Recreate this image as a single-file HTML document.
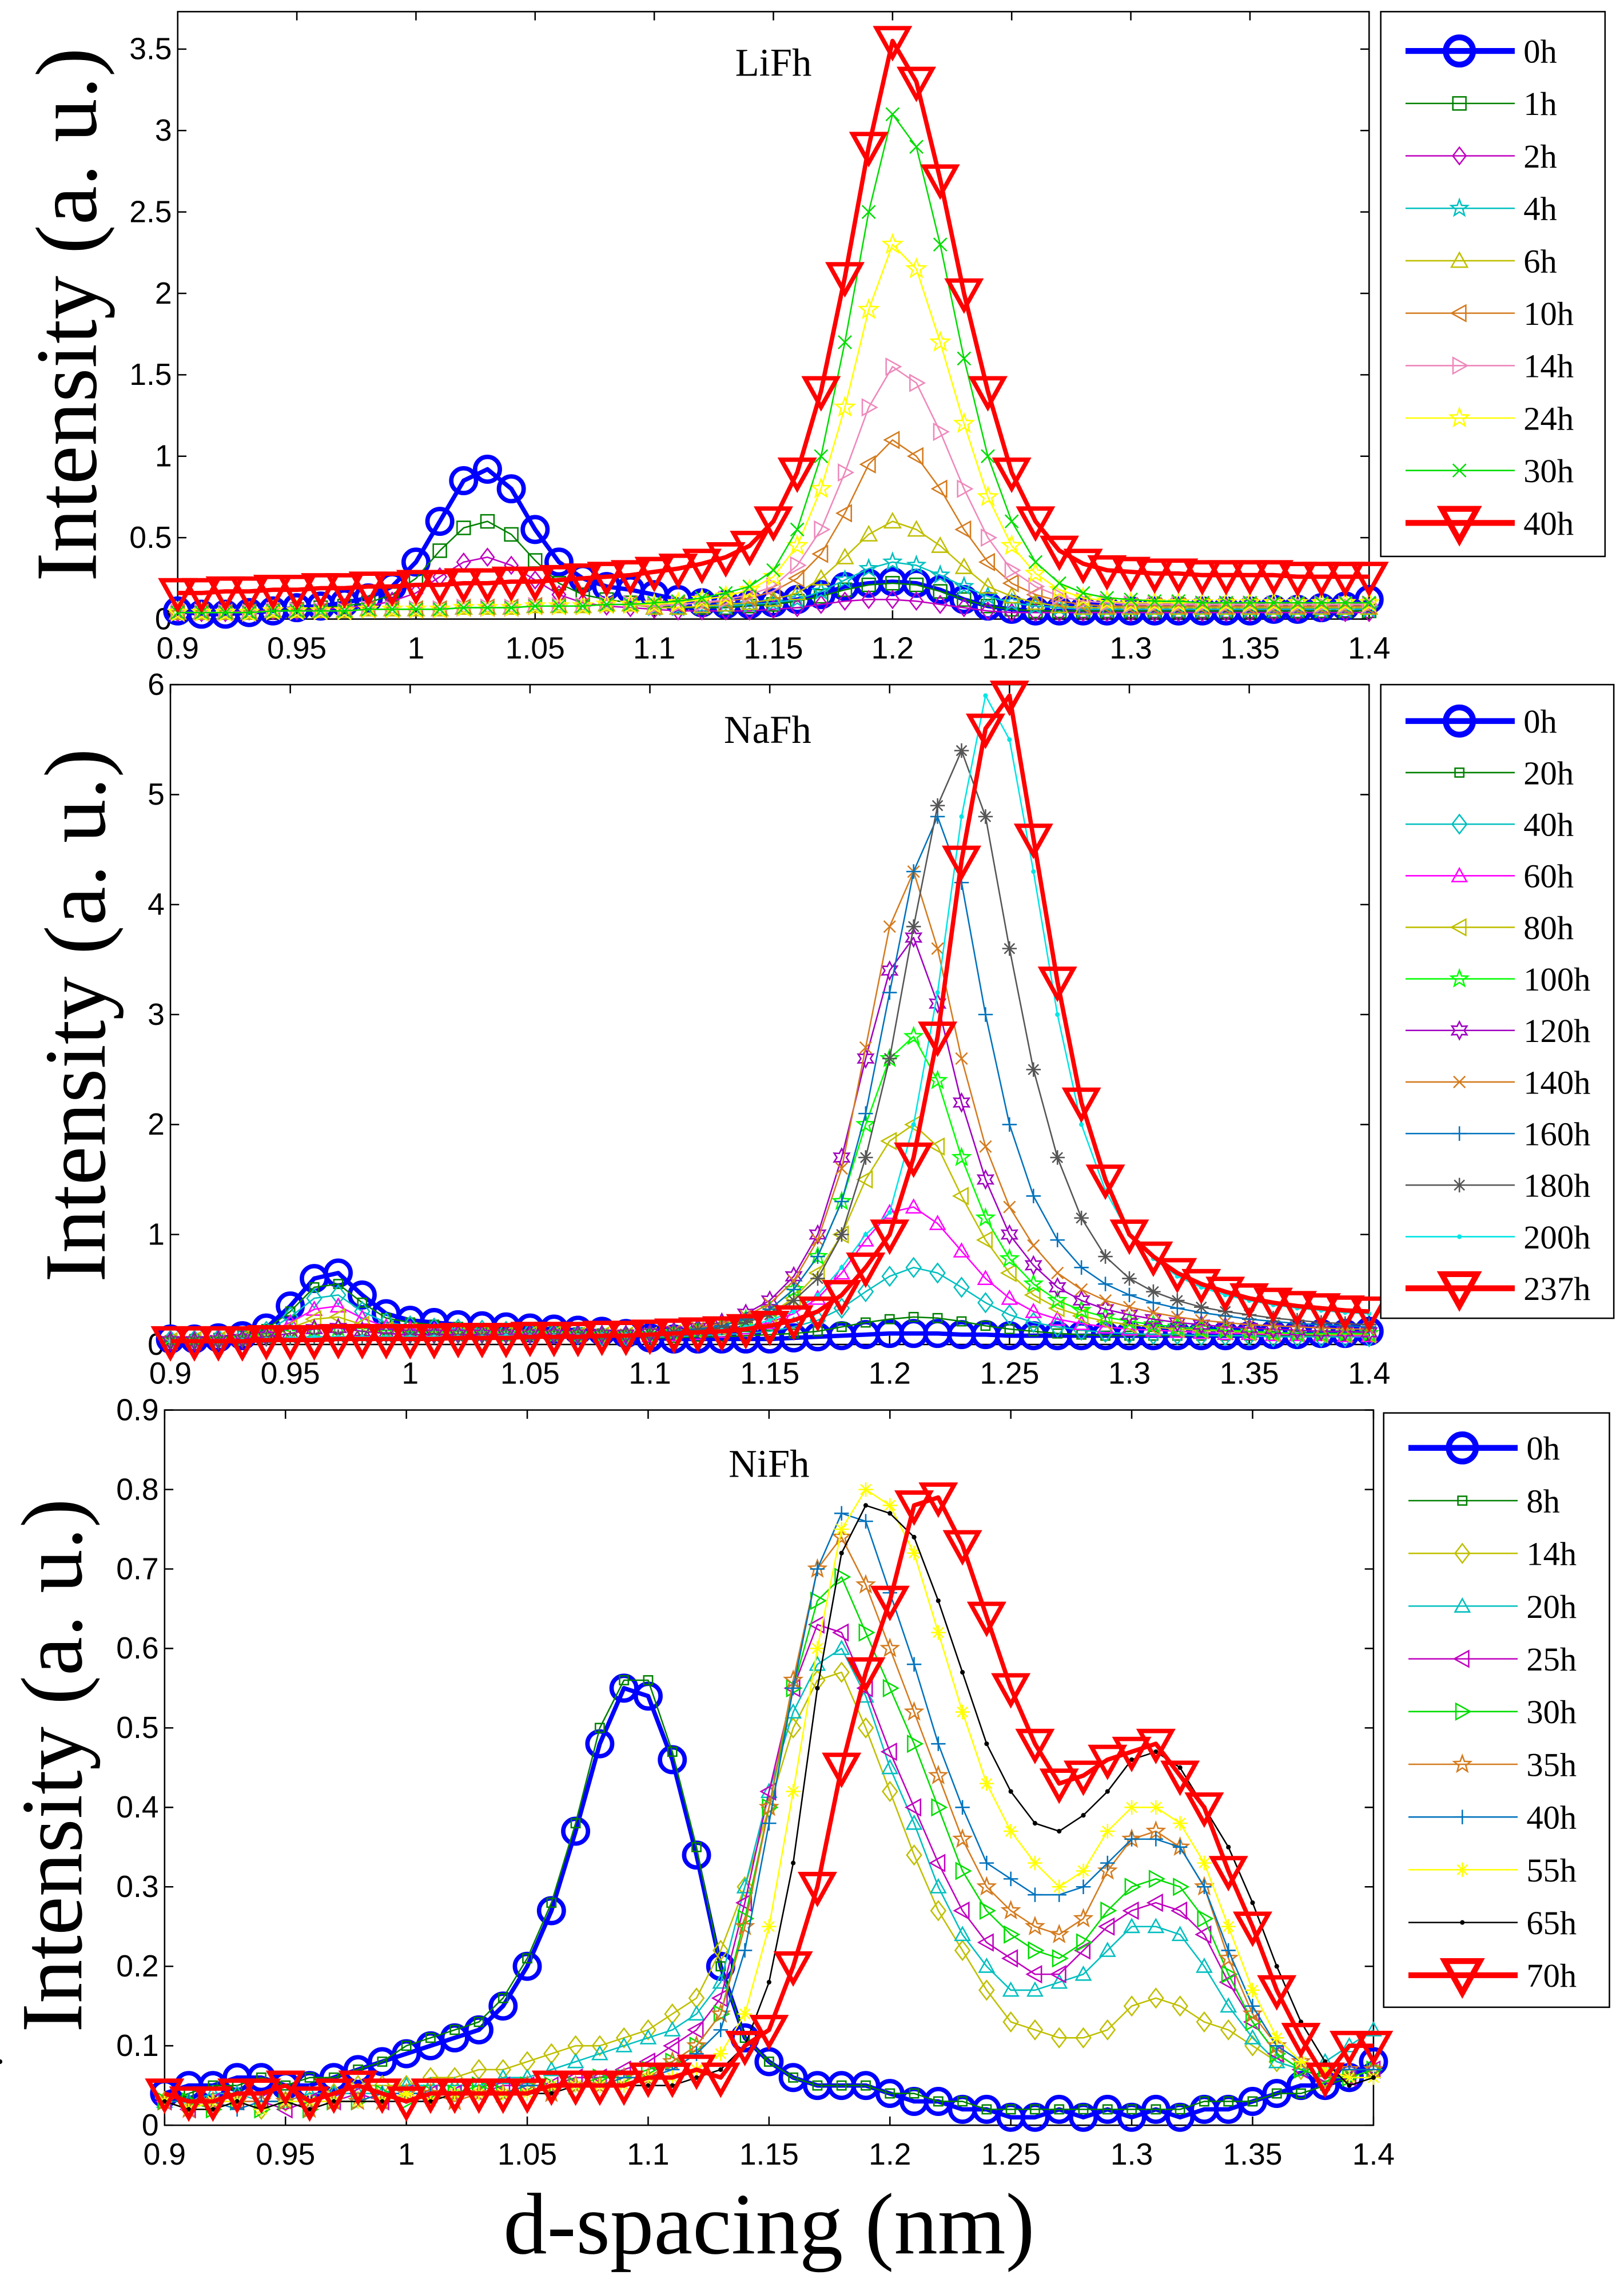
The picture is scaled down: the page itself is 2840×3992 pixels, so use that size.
<!DOCTYPE html>
<html><head><meta charset="utf-8"><style>
html,body{margin:0;padding:0;background:#fff}
svg{display:block}
text{font-family:"Liberation Sans",sans-serif}
.serif{font-family:"Liberation Serif",serif}
</style></head><body>
<svg id="fig" width="2840" height="3992" viewBox="0 0 1115 1567.3" xmlns="http://www.w3.org/2000/svg">
<rect x="0" y="0" width="1115" height="1568" fill="#fff"/>
<text class="serif" x="528" y="1547" font-size="60" text-anchor="middle">d-spacing (nm)</text>
</svg>
<script>
const xs=[0.90,0.91,0.92,0.93,0.94,0.95,0.96,0.97,0.98,0.99,1.00,1.01,1.02,1.03,1.04,1.05,1.06,1.07,1.08,1.09,1.10,1.11,1.12,1.13,1.14,1.15,1.16,1.17,1.18,1.19,1.20,1.21,1.22,1.23,1.24,1.25,1.26,1.27,1.28,1.29,1.30,1.31,1.32,1.33,1.34,1.35,1.36,1.37,1.38,1.39,1.40];
const xTicks=[0.9,0.95,1,1.05,1.1,1.15,1.2,1.25,1.3,1.35,1.4];
const xTickLabels=["0.9","0.95","1","1.05","1.1","1.15","1.2","1.25","1.3","1.35","1.4"];
// ---- LiFh ----
const liLabels=["0h","1h","2h","4h","6h","10h","14h","24h","30h","40h"];
const li0h=[.05,.03,.03,.04,.05,.07,.08,.1,.13,.2,.35,.6,.85,.92,.8,.55,.35,.25,.2,.18,.15,.12,.1,.09,.09,.1,.12,.15,.2,.22,.23,.22,.18,.12,.08,.06,.05,.05,.05,.05,.05,.05,.05,.05,.05,.05,.06,.06,.07,.08,.12];
const li1h=[.04,.04,.04,.05,.05,.06,.07,.08,.1,.15,.25,.42,.56,.6,.52,.36,.22,.15,.12,.1,.08,.07,.07,.07,.08,.09,.11,.14,.18,.21,.22,.21,.17,.12,.08,.06,.05,.05,.05,.05,.05,.05,.05,.05,.05,.05,.05,.05,.05,.05,.05];
const li2h=[.04,.04,.04,.05,.05,.05,.06,.07,.08,.11,.16,.26,.35,.38,.33,.24,.15,.1,.08,.07,.06,.05,.05,.05,.05,.06,.07,.09,.11,.12,.12,.11,.09,.07,.05,.04,.04,.04,.04,.04,.04,.04,.04,.04,.04,.04,.04,.04,.04,.04,.04];
const li4h=[.04,.04,.04,.04,.05,.05,.05,.05,.06,.06,.06,.06,.07,.07,.07,.08,.08,.08,.09,.09,.07,.07,.08,.08,.09,.1,.12,.17,.24,.31,.35,.33,.27,.2,.14,.1,.08,.07,.06,.06,.06,.06,.06,.06,.06,.06,.06,.06,.06,.06,.06];
const li6h=[.04,.04,.04,.04,.05,.05,.05,.05,.06,.06,.06,.06,.07,.07,.07,.08,.08,.08,.09,.09,.07,.07,.08,.09,.1,.12,.16,.25,.38,.52,.6,.55,.45,.32,.2,.14,.1,.08,.07,.07,.07,.07,.07,.07,.07,.07,.07,.07,.07,.07,.07];
const li10h=[.04,.04,.04,.04,.05,.05,.05,.05,.06,.06,.06,.06,.07,.07,.07,.08,.08,.08,.09,.09,.08,.09,.1,.11,.13,.17,.25,.4,.65,.95,1.1,1.0,.8,.55,.35,.22,.15,.11,.09,.08,.08,.08,.08,.08,.08,.08,.08,.08,.08,.08,.08];
const li14h=[.04,.04,.04,.04,.05,.05,.05,.05,.06,.06,.06,.06,.07,.07,.07,.08,.08,.08,.09,.09,.08,.09,.1,.12,.15,.2,.33,.55,.9,1.3,1.55,1.45,1.15,.8,.5,.3,.2,.14,.11,.1,.09,.09,.09,.09,.09,.09,.09,.09,.09,.09,.09];
const li24h=[.04,.04,.04,.04,.05,.05,.05,.05,.06,.06,.06,.06,.07,.07,.07,.08,.08,.08,.09,.09,.09,.1,.12,.14,.18,.26,.45,.8,1.3,1.9,2.3,2.15,1.7,1.2,.75,.45,.28,.18,.13,.11,.1,.1,.1,.1,.1,.1,.1,.1,.1,.1,.1];
const li30h=[.04,.04,.04,.04,.05,.05,.05,.05,.06,.06,.06,.06,.07,.07,.07,.08,.08,.08,.09,.09,.1,.11,.13,.16,.2,.3,.55,1.0,1.7,2.5,3.1,2.9,2.3,1.6,1.0,.6,.35,.22,.16,.13,.12,.11,.11,.1,.1,.1,.1,.1,.1,.1,.1];
const li40h=[.16,.16,.17,.17,.18,.18,.19,.19,.2,.2,.21,.21,.22,.22,.23,.23,.24,.25,.26,.27,.29,.31,.34,.38,.45,.6,.9,1.4,2.1,2.9,3.55,3.3,2.7,2.0,1.4,.9,.6,.42,.34,.3,.29,.28,.28,.27,.27,.27,.27,.26,.26,.26,.26];
const liYTicks=[0,0.5,1,1.5,2,2.5,3,3.5];
const liYTickLabels=["0","0.5","1","1.5","2","2.5","3","3.5"];
// ---- NaFh ----
const naLabels=["0h","20h","40h","60h","80h","100h","120h","140h","160h","180h","200h","237h"];
const na0h=[.05,.05,.06,.08,.15,.35,.6,.65,.45,.28,.22,.2,.18,.17,.16,.15,.14,.13,.12,.1,.06,.05,.05,.05,.05,.05,.06,.07,.08,.09,.1,.1,.1,.09,.09,.08,.08,.08,.08,.08,.08,.08,.08,.08,.08,.08,.09,.09,.1,.1,.12];
const na20h=[.04,.05,.06,.08,.14,.3,.52,.55,.38,.24,.2,.18,.16,.15,.14,.13,.12,.11,.1,.09,.06,.06,.07,.07,.08,.09,.1,.12,.16,.2,.23,.25,.24,.21,.17,.14,.12,.1,.09,.08,.08,.08,.08,.08,.08,.08,.08,.08,.08,.08,.08];
const na40h=[.04,.04,.05,.07,.12,.25,.42,.45,.3,.2,.17,.15,.14,.13,.12,.11,.1,.09,.08,.08,.07,.07,.08,.09,.1,.12,.16,.22,.33,.48,.62,.7,.65,.52,.38,.27,.2,.16,.13,.11,.1,.09,.09,.08,.08,.08,.07,.07,.07,.07,.07];
const na60h=[.04,.04,.05,.06,.1,.2,.32,.35,.24,.16,.14,.13,.12,.11,.1,.1,.09,.09,.08,.08,.08,.09,.1,.12,.15,.2,.28,.42,.65,.95,1.2,1.25,1.1,.85,.6,.42,.3,.23,.19,.16,.14,.13,.12,.11,.1,.1,.09,.09,.09,.08,.08];
const na80h=[.03,.04,.04,.05,.08,.15,.23,.25,.18,.13,.12,.11,.1,.1,.09,.09,.09,.08,.08,.08,.08,.1,.12,.15,.2,.28,.42,.65,1.0,1.5,1.85,2.0,1.8,1.35,.95,.65,.45,.33,.26,.21,.18,.16,.14,.13,.12,.11,.1,.1,.09,.09,.09];
const na100h=[.03,.03,.04,.05,.07,.1,.14,.15,.12,.1,.09,.09,.09,.09,.09,.09,.09,.09,.09,.09,.09,.11,.13,.17,.23,.32,.5,.8,1.3,2.0,2.6,2.8,2.4,1.7,1.15,.78,.55,.4,.31,.25,.21,.18,.16,.14,.13,.12,.11,.1,.1,.1,.1];
const na120h=[.03,.03,.04,.05,.07,.1,.14,.15,.12,.1,.09,.09,.09,.09,.09,.09,.09,.09,.09,.09,.1,.12,.15,.2,.28,.4,.62,1.0,1.7,2.6,3.4,3.7,3.1,2.2,1.5,1.0,.72,.52,.4,.32,.27,.23,.2,.18,.16,.15,.14,.13,.12,.12,.11];
const na140h=[.03,.03,.03,.04,.05,.06,.07,.07,.07,.07,.07,.07,.07,.07,.08,.08,.08,.08,.09,.09,.1,.12,.15,.19,.26,.37,.58,.95,1.6,2.7,3.8,4.3,3.6,2.6,1.8,1.25,.9,.65,.5,.4,.34,.29,.25,.22,.2,.18,.17,.16,.15,.14,.14];
const na160h=[.03,.03,.03,.04,.05,.06,.07,.07,.07,.07,.07,.07,.07,.07,.08,.08,.08,.08,.09,.09,.1,.12,.14,.17,.23,.32,.5,.8,1.3,2.1,3.2,4.3,4.8,4.2,3.0,2.0,1.35,.95,.7,.55,.45,.38,.33,.29,.26,.23,.21,.19,.18,.17,.16];
const na180h=[.03,.03,.03,.04,.05,.06,.07,.07,.07,.07,.07,.07,.07,.07,.08,.08,.08,.08,.09,.09,.1,.11,.13,.15,.2,.27,.4,.6,1.0,1.7,2.6,3.8,4.9,5.4,4.8,3.6,2.5,1.7,1.15,.8,.6,.48,.4,.34,.3,.27,.24,.22,.2,.19,.18];
const na200h=[.03,.03,.03,.04,.05,.06,.07,.07,.07,.07,.07,.07,.07,.07,.08,.08,.08,.08,.09,.09,.09,.1,.11,.13,.16,.22,.3,.45,.7,1.0,1.2,2.0,3.2,4.8,5.9,5.5,4.3,3.0,2.0,1.4,1.0,.78,.62,.52,.45,.4,.36,.33,.31,.29,.28];
const na237h=[.03,.03,.03,.03,.04,.04,.04,.05,.05,.05,.05,.05,.06,.06,.06,.07,.07,.07,.08,.08,.09,.1,.11,.12,.14,.17,.22,.3,.45,.7,1.0,1.7,2.8,4.4,5.6,5.9,4.6,3.3,2.2,1.5,1.0,.8,.65,.55,.48,.42,.38,.35,.33,.31,.3];
const naYTicks=[0,1,2,3,4,5,6];
const naYTickLabels=["0","1","2","3","4","5","6"];
// ---- NiFh ----
const niLabels=["0h","8h","14h","20h","25h","30h","35h","40h","55h","65h","70h"];
const ni0h=[.04,.05,.05,.06,.06,.05,.05,.06,.07,.08,.09,.1,.11,.12,.15,.2,.27,.37,.48,.55,.54,.46,.34,.2,.11,.08,.06,.05,.05,.05,.04,.03,.03,.02,.02,.01,.01,.02,.01,.02,.01,.02,.01,.02,.02,.03,.04,.05,.05,.06,.08];
const ni8h=[.03,.04,.05,.05,.06,.05,.06,.06,.07,.08,.1,.11,.12,.13,.16,.21,.28,.38,.5,.56,.56,.47,.35,.2,.11,.08,.06,.05,.05,.05,.04,.04,.03,.03,.02,.02,.02,.02,.02,.02,.02,.02,.02,.03,.03,.03,.04,.04,.05,.06,.07];
const ni14h=[.03,.02,.02,.03,.02,.03,.03,.04,.05,.05,.05,.06,.06,.07,.07,.08,.09,.1,.1,.11,.12,.14,.16,.22,.3,.4,.5,.56,.57,.5,.42,.34,.27,.22,.17,.13,.12,.11,.11,.12,.15,.16,.15,.13,.12,.1,.08,.07,.06,.06,.07];
const ni20h=[.03,.03,.04,.04,.03,.03,.04,.04,.04,.04,.05,.05,.05,.05,.06,.06,.07,.08,.09,.1,.11,.12,.14,.18,.3,.42,.52,.58,.6,.54,.45,.38,.3,.24,.2,.17,.17,.18,.19,.22,.25,.25,.24,.2,.15,.11,.08,.07,.08,.1,.12];
const ni25h=[.03,.02,.03,.03,.03,.02,.03,.03,.04,.03,.04,.04,.04,.04,.05,.05,.05,.06,.06,.07,.08,.1,.12,.16,.28,.42,.55,.63,.62,.55,.47,.4,.33,.27,.23,.21,.19,.19,.22,.25,.27,.28,.27,.24,.18,.13,.09,.07,.06,.06,.07];
const ni30h=[.03,.03,.02,.03,.02,.03,.02,.03,.03,.04,.03,.04,.04,.05,.04,.05,.05,.05,.06,.06,.07,.08,.1,.14,.26,.4,.55,.66,.69,.62,.55,.48,.4,.32,.27,.24,.22,.21,.23,.27,.3,.31,.3,.26,.19,.13,.09,.07,.06,.06,.07];
const ni35h=[.03,.02,.03,.03,.03,.03,.02,.03,.03,.03,.04,.04,.03,.04,.04,.05,.04,.05,.05,.06,.06,.08,.1,.14,.25,.4,.56,.7,.74,.68,.6,.52,.44,.36,.3,.27,.25,.24,.26,.32,.36,.37,.35,.3,.21,.14,.1,.08,.07,.07,.07];
const ni40h=[.03,.03,.03,.02,.03,.03,.03,.03,.03,.04,.04,.04,.04,.04,.04,.05,.05,.05,.05,.06,.06,.07,.09,.12,.22,.38,.55,.7,.77,.76,.67,.58,.48,.4,.33,.31,.29,.29,.3,.33,.36,.36,.35,.3,.22,.15,.1,.08,.07,.07,.07];
const ni55h=[.03,.02,.03,.03,.02,.03,.03,.03,.03,.03,.04,.03,.04,.04,.04,.04,.05,.05,.05,.05,.06,.06,.07,.09,.14,.25,.42,.6,.75,.8,.78,.72,.62,.52,.43,.37,.33,.3,.32,.37,.4,.4,.38,.33,.25,.17,.11,.08,.07,.06,.06];
const ni65h=[.03,.02,.02,.03,.02,.03,.02,.03,.03,.03,.03,.03,.04,.04,.04,.04,.04,.05,.05,.05,.05,.05,.06,.07,.1,.18,.33,.55,.72,.78,.77,.74,.66,.57,.48,.42,.38,.37,.39,.42,.46,.47,.45,.4,.35,.28,.2,.13,.08,.05,.06,.08];
const ni70h=[.04,.03,.03,.04,.04,.05,.03,.04,.05,.04,.03,.04,.04,.04,.04,.04,.05,.05,.05,.05,.06,.06,.07,.06,.1,.12,.2,.3,.45,.57,.66,.78,.79,.73,.64,.55,.48,.43,.44,.46,.47,.48,.44,.4,.32,.25,.17,.11,.06,.1,.1];
const niYTicks=[0,0.1,0.2,0.3,0.4,0.5,0.6,0.7,0.8,0.9];
const niYTickLabels=["0","0.1","0.2","0.3","0.4","0.5","0.6","0.7","0.8","0.9"];

const NS="http://www.w3.org/2000/svg";
const svg=document.getElementById('fig');
function mk(tag,attrs,parent){const e=document.createElementNS(NS,tag);for(const k in attrs)e.setAttribute(k,attrs[k]);(parent||svg).appendChild(e);return e;}
function starPts(cx,cy,ro,ri,n,rot){let p=[];for(let i=0;i<2*n;i++){const r=i%2?ri:ro;const a=rot+Math.PI*i/n;p.push((cx+r*Math.sin(a)).toFixed(2)+','+(cy-r*Math.cos(a)).toFixed(2));}return p.join(' ');}
function marker(g,type,cx,cy,s,col,lw){
 const st={fill:'none',stroke:col,'stroke-width':lw};let e;
 if(type==='o')e=mk('circle',Object.assign({cx:cx,cy:cy,r:s},st),g);
 else if(type==='s')e=mk('rect',Object.assign({x:cx-s,y:cy-s,width:2*s,height:2*s},st),g);
 else if(type==='d')e=mk('polygon',Object.assign({points:`${cx},${cy-s*1.3} ${cx+s},${cy} ${cx},${cy+s*1.3} ${cx-s},${cy}`},st),g);
 else if(type==='^')e=mk('polygon',Object.assign({points:`${cx},${cy-s} ${cx+s},${cy+s*0.8} ${cx-s},${cy+s*0.8}`},st),g);
 else if(type==='v')e=mk('polygon',Object.assign({points:`${cx},${cy+s} ${cx+s},${cy-s*0.8} ${cx-s},${cy-s*0.8}`},st),g);
 else if(type==='<')e=mk('polygon',Object.assign({points:`${cx-s},${cy} ${cx+s*0.8},${cy-s} ${cx+s*0.8},${cy+s}`},st),g);
 else if(type==='>')e=mk('polygon',Object.assign({points:`${cx+s},${cy} ${cx-s*0.8},${cy-s} ${cx-s*0.8},${cy+s}`},st),g);
 else if(type==='p')e=mk('polygon',Object.assign({points:starPts(cx,cy,s*1.2,s*0.5,5,0)},st),g);
 else if(type==='h')e=mk('polygon',Object.assign({points:starPts(cx,cy,s*1.2,s*0.65,6,0)},st),g);
 else if(type==='x')e=mk('path',Object.assign({d:`M${cx-s},${cy-s}L${cx+s},${cy+s}M${cx-s},${cy+s}L${cx+s},${cy-s}`},st),g);
 else if(type==='+')e=mk('path',Object.assign({d:`M${cx-s},${cy}L${cx+s},${cy}M${cx},${cy-s}L${cx},${cy+s}`},st),g);
 else if(type==='*')e=mk('path',Object.assign({d:`M${cx-s},${cy}L${cx+s},${cy}M${cx},${cy-s}L${cx},${cy+s}M${cx-s*.7},${cy-s*.7}L${cx+s*.7},${cy+s*.7}M${cx-s*.7},${cy+s*.7}L${cx+s*.7},${cy-s*.7}`},st),g);
 else if(type==='.')e=mk('circle',{cx:cx,cy:cy,r:1.6,fill:col},g);
 return e;
}
const panels=[
 {name:'lifh',title:'LiFh',tx:531,ty:52,box:[122,8,940,425],ymax:3.73,yt:liYTicks,ytl:liYTickLabels,ylab:[46,216],
  leg:[948,8,1102,382],ly0:35,ldy:36,
  series:[[li0h,'o','#0000ff',3,8.5],[li1h,'s','#008000',1,4.5],[li2h,'d','#bf00bf',1,4.5],[li4h,'p','#00bfbf',1,5],[li6h,'^','#bfbf00',1,5.5],[li10h,'<','#d47b1f',1,5.5],[li14h,'>','#ee88bb',1,5.5],[li24h,'p','#ffff00',1,5.5],[li30h,'x','#00dd00',1,4.5],[li40h,'v','#ff0000',3,11]],labels:liLabels},
 {name:'nafh',title:'NaFh',tx:527,ty:510,box:[117,470,940,923],ymax:6,yt:naYTicks,ytl:naYTickLabels,ylab:[52,697],
  leg:[948,470,1108,905],ly0:495,ldy:35.4,
  series:[[na0h,'o','#0000ff',3,8.5],[na20h,'s','#008000',1,3],[na40h,'d','#00bfbf',1,5],[na60h,'^','#ff00ff',1,5],[na80h,'<','#bfbf00',1,5.5],[na100h,'p','#00ff00',1,5],[na120h,'h','#a000c0',1,5],[na140h,'x','#d47b1f',1,4],[na160h,'+','#0072bd',1,5],[na180h,'*','#555555',1,5],[na200h,'.','#00e5e5',1,3],[na237h,'v','#ff0000',3,11]],labels:naLabels},
 {name:'nifh',title:'NiFh',tx:528,ty:1014,box:[113,968,943,1459],ymax:0.9,yt:niYTicks,ytl:niYTickLabels,ylab:[36,1212],
  leg:[950,970,1105,1378],ly0:994,ldy:36.2,
  series:[[ni0h,'o','#0000ff',3,8.5],[ni8h,'s','#008000',1,3],[ni14h,'d','#bfbf00',1,5],[ni20h,'^','#00bfbf',1,5],[ni25h,'<','#bf00bf',1,5.5],[ni30h,'>','#00dd00',1,5.5],[ni35h,'p','#d47b1f',1,5],[ni40h,'+','#0072bd',1,5],[ni55h,'*','#ffff00',1,5],[ni65h,'.','#000000',1,3],[ni70h,'v','#ff0000',3,11]],labels:niLabels}
];
panels.forEach(P=>{
 const [L,T,R,B]=P.box;
 const xS=v=>L+(v-0.9)/(0.5)*(R-L);
 const yS=v=>B-v/P.ymax*(B-T);
 const g=mk('g',{});
 
 
 const fr=mk('rect',{x:L,y:T,width:R-L,height:B-T,fill:'#fff',stroke:'#000','stroke-width':1},g);
 
 
 xTicks.forEach((t,i)=>{const x=xS(t);
  mk('path',{d:`M${x},${B}V${B-6}M${x},${T}V${T+6}`,stroke:'#000','stroke-width':1},g);
  const tl=mk('text',{x:x,y:B+27,'font-size':21,'text-anchor':'middle'},g);tl.textContent=xTickLabels[i];
  
  
 });
 P.yt.forEach((t,i)=>{const y=yS(t);
  mk('path',{d:`M${L},${y}H${L+6}M${R},${y}H${R-6}`,stroke:'#000','stroke-width':1},g);
  const tl=mk('text',{x:L-4,y:y+7,'font-size':21,'text-anchor':'end'},g);tl.textContent=P.ytl[i];
  
  
 });
 const yl=mk('text',{x:P.ylab[0],y:P.ylab[1],'font-size':60,'text-anchor':'middle','class':'serif',transform:`rotate(-90 ${P.ylab[0]} ${P.ylab[1]})`,'dominant-baseline':'central'},g);
 yl.textContent='Intensity (a. u.)';
 
 
 P.series.forEach((S,si)=>{
  const [vals,mt,col,lw,ms]=S;
  const sg=mk('g',{},g);
  
  
  const pts=vals.map((v,i)=>xS(xs[i]).toFixed(2)+','+yS(v).toFixed(2)).join(' ');
  mk('polyline',{points:pts,fill:'none',stroke:col,'stroke-width':lw,'stroke-linejoin':'round'},sg);
  vals.forEach((v,i)=>{const m=marker(sg,mt,xS(xs[i]),yS(v),ms,col,lw===3?3:1);
   
   });
 });
 const tt=mk('text',{x:P.tx,y:P.ty,'font-size':27,'text-anchor':'middle','class':'serif'},g);
 tt.textContent=P.title;
 
 
 const [lx0,ly0,lx1,ly1]=P.leg;
 const lg=mk('g',{},g);
 
 
 mk('rect',{x:lx0,y:ly0,width:lx1-lx0,height:ly1-ly0,fill:'#fff',stroke:'#000','stroke-width':1},lg);
 P.series.forEach((S,si)=>{
  const [vals,mt,col,lw,ms]=S;const y=P.ly0+si*P.ldy;
  const eg=mk('g',{},lg);
  
  
  mk('line',{x1:lx0+17,y1:y,x2:lx0+92,y2:y,stroke:col,'stroke-width':lw===3?4:1},eg);
  marker(eg,mt,lx0+54,y,ms*(lw===3?1.1:1),col,lw===3?4:1);
  const t=mk('text',{x:lx0+98,y:y+8,'font-size':23,'class':'serif'},eg);t.textContent=P.labels[si];
 });
});
</script>
</body></html>
